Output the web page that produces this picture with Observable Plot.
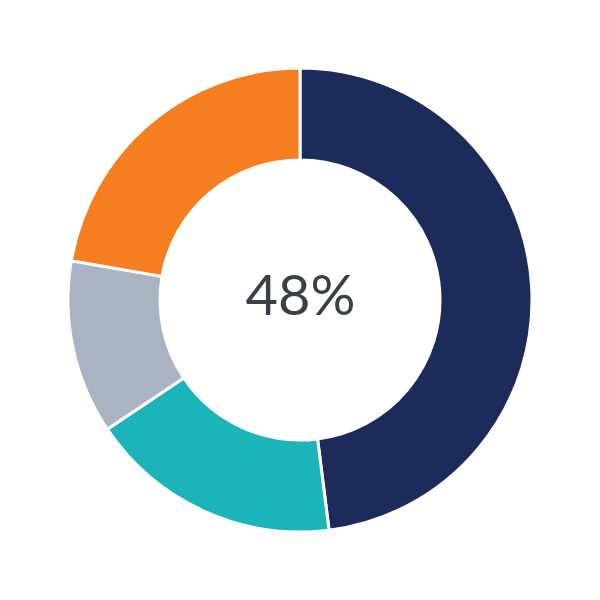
<!DOCTYPE html>
<html>
<head>
<meta charset="utf-8">
<script src="https://cdn.jsdelivr.net/npm/d3@7"></script>
<script src="https://cdn.jsdelivr.net/npm/@observablehq/plot@0.6"></script>
<style>
  html, body { margin: 0; padding: 0; background: #ffffff; }
  #chart { width: 600px; height: 600px; }
</style>
</head>
<body>
<div id="chart"></div>
<script>
const categories = ["Segment A", "Segment B", "Segment C", "Segment D"];
const values = [48, 17.6, 12.1, 22.3];
const colors = ["#1c2b5a", "#1bb4b8", "#a9b3c2", "#f47e20"];
const centerLabel = "48%";

const data = categories.map((c, i) => ({category: c, value: values[i]}));
const pie = d3.pie().sort(null).value(d => d.value)(data);

const outerR = 232 / 300;
const innerR = 140 / 300;

function donut(index, scales) {
  const cx = scales.x(0), cy = scales.y(0);
  const ro = scales.x(outerR) - cx;
  const ri = scales.x(innerR) - cx;
  const arc = d3.arc().innerRadius(ri).outerRadius(ro);
  const g = d3.create("svg:g").attr("transform", `translate(${cx},${cy})`);
  g.selectAll("path")
    .data(pie)
    .join("path")
    .attr("d", arc)
    .attr("fill", d => scales.color(d.data.category))
    .attr("stroke", "#ffffff")
    .attr("stroke-width", 3)
    .attr("stroke-linejoin", "round");
  return g.node();
}

const chart = Plot.plot({
  width: 600,
  height: 600,
  margin: 0,
  x: {domain: [-1, 1], axis: null},
  y: {domain: [-1, 1], axis: null},
  color: {domain: categories, range: colors},
  marks: [
    Plot.dot(categories, {x: () => 0, y: () => 0, fill: d => d, r: 0}),
    donut,
    Plot.text([centerLabel], {
      x: () => 0, y: () => 0.012, text: d => d,
      fontSize: 56, fontFamily: "Lato, 'Open Sans', sans-serif",
      fill: "#3a3f48", textAnchor: "middle", lineAnchor: "middle"
    })
  ]
});
document.getElementById("chart").appendChild(chart);
</script>
</body>
</html>
